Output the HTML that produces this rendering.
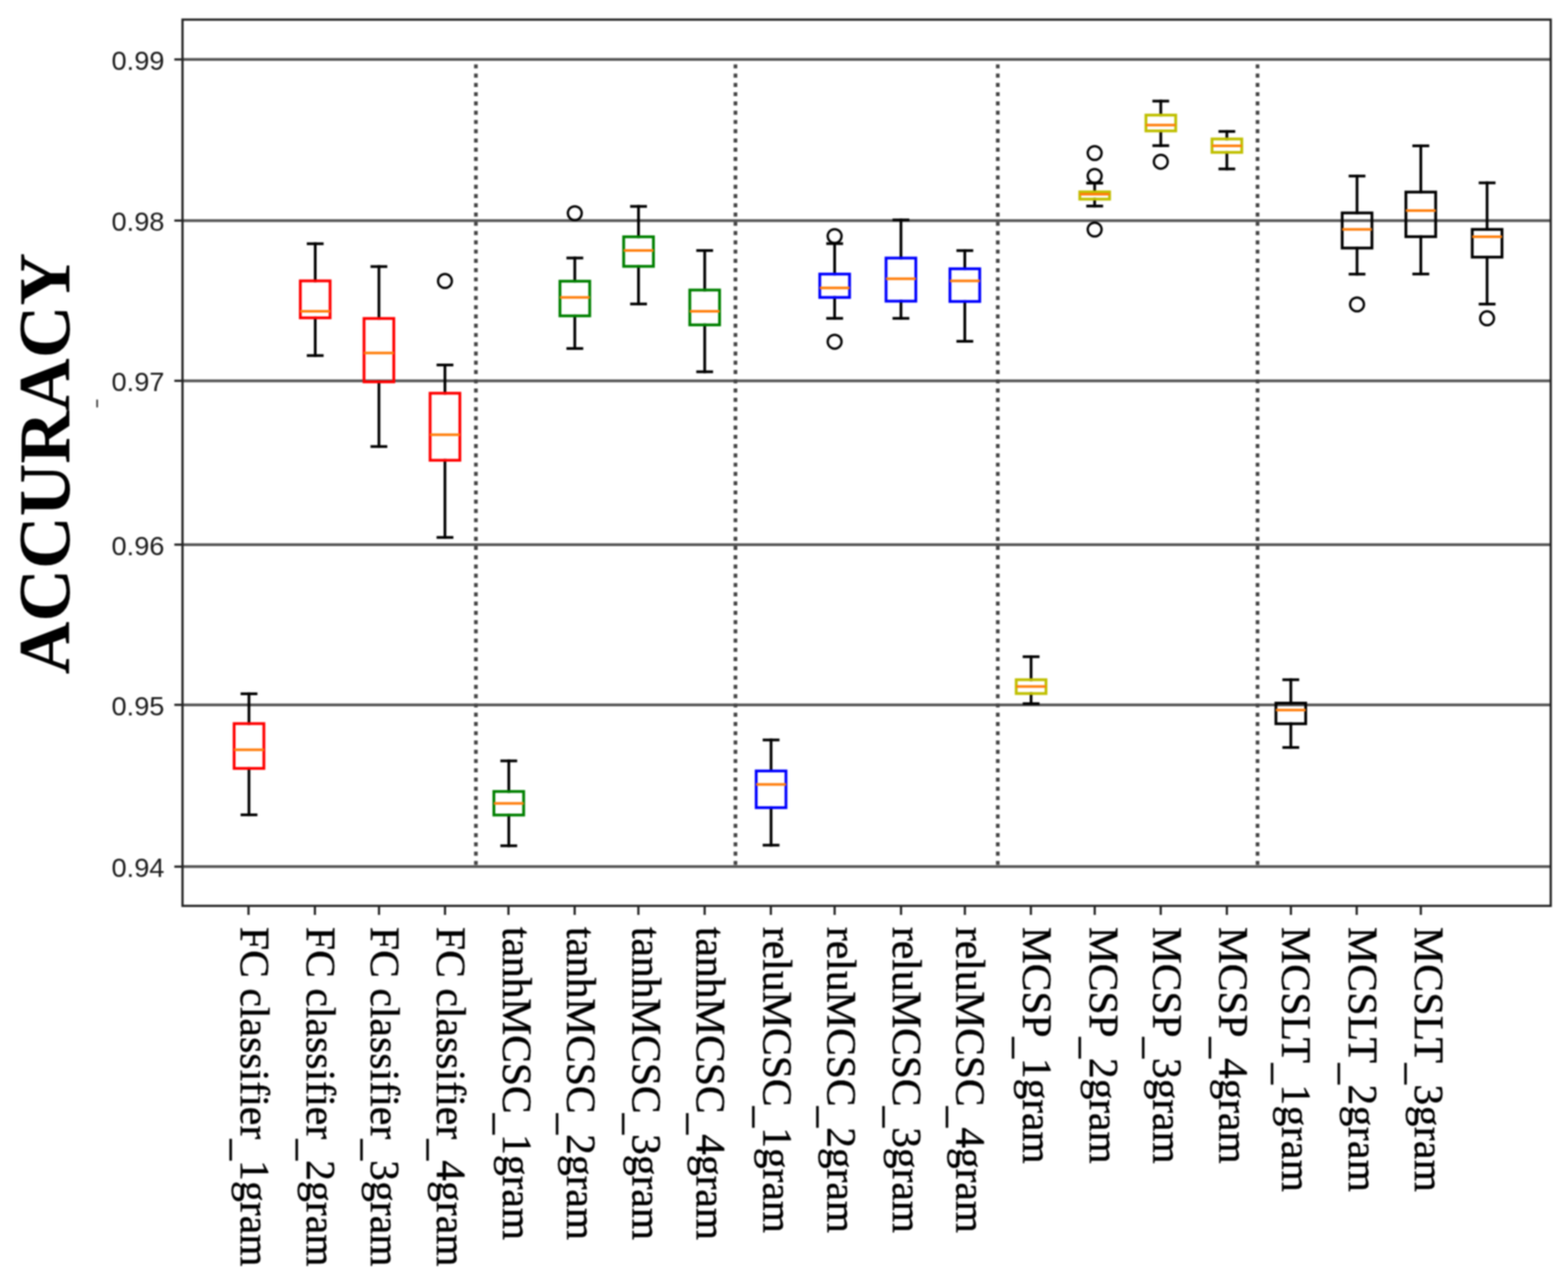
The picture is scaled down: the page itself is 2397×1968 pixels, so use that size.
<!DOCTYPE html>
<html><head><meta charset="utf-8"><title>ACCURACY boxplot</title>
<style>html,body{margin:0;padding:0;background:#fff;}svg{display:block;}#c{width:2397px;height:1968px;overflow:hidden;filter:blur(1px);}.tl{font-family:"Liberation Sans",Arial,sans-serif;font-size:41.5px;fill:#1a1a1a;}.xl{font-family:"Liberation Serif","Times New Roman",serif;font-size:63.3px;fill:#000;stroke:#000;stroke-width:0.7px;}.yl{font-family:"Liberation Serif","Times New Roman",serif;font-weight:bold;font-size:111.5px;fill:#000;}</style></head><body><div id="c">
<svg width="2397" height="1968" viewBox="0 0 2397 1968">
<rect width="2397" height="1968" fill="#fff"/>
<g stroke="#555" stroke-width="4.2" fill="none">
<line x1="279" y1="90.9" x2="2370.6" y2="90.9"/>
<line x1="279" y1="337.3" x2="2370.6" y2="337.3"/>
<line x1="279" y1="582.3" x2="2370.6" y2="582.3"/>
<line x1="279" y1="832.8" x2="2370.6" y2="832.8"/>
<line x1="279" y1="1077.8" x2="2370.6" y2="1077.8"/>
<line x1="279" y1="1325.2" x2="2370.6" y2="1325.2"/>
</g>
<g stroke="#444" stroke-width="5.6" stroke-dasharray="6.2 7.963" fill="none">
<line x1="727.5" y1="98.4" x2="727.5" y2="1325"/>
<line x1="1124.3" y1="98.4" x2="1124.3" y2="1325"/>
<line x1="1525.3" y1="98.4" x2="1525.3" y2="1325"/>
<line x1="1922.4" y1="98.4" x2="1922.4" y2="1325"/>
</g>
<g>
<g stroke="#000" stroke-width="4.2" stroke-linecap="square" fill="none">
<line x1="380.6" y1="1060.9" x2="380.6" y2="1106.5"/>
<line x1="380.6" y1="1175" x2="380.6" y2="1246"/>
<line x1="369.9" y1="1060.9" x2="391.4" y2="1060.9"/>
<line x1="369.9" y1="1246" x2="391.4" y2="1246"/>
</g>
<rect x="357.9" y="1106.5" width="45.5" height="68.5" fill="none" stroke="#ff0000" stroke-width="4.3"/>
<line x1="357.9" y1="1146.5" x2="403.4" y2="1146.5" stroke="#ff7f0e" stroke-width="4"/>
</g>
<g>
<g stroke="#000" stroke-width="4.2" stroke-linecap="square" fill="none">
<line x1="481.9" y1="372.7" x2="481.9" y2="429.5"/>
<line x1="481.9" y1="486" x2="481.9" y2="543.7"/>
<line x1="471.1" y1="372.7" x2="492.6" y2="372.7"/>
<line x1="471.1" y1="543.7" x2="492.6" y2="543.7"/>
</g>
<rect x="459.1" y="429.5" width="45.5" height="56.5" fill="none" stroke="#ff0000" stroke-width="4.3"/>
<line x1="459.1" y1="476" x2="504.6" y2="476" stroke="#ff7f0e" stroke-width="4"/>
</g>
<g>
<g stroke="#000" stroke-width="4.2" stroke-linecap="square" fill="none">
<line x1="579.3" y1="407.6" x2="579.3" y2="487"/>
<line x1="579.3" y1="583.9" x2="579.3" y2="682.8"/>
<line x1="568.5" y1="407.6" x2="590" y2="407.6"/>
<line x1="568.5" y1="682.8" x2="590" y2="682.8"/>
</g>
<rect x="556.5" y="487" width="45.5" height="96.9" fill="none" stroke="#ff0000" stroke-width="4.3"/>
<line x1="556.5" y1="539.8" x2="602" y2="539.8" stroke="#ff7f0e" stroke-width="4"/>
</g>
<g>
<g stroke="#000" stroke-width="4.2" stroke-linecap="square" fill="none">
<line x1="680.2" y1="558.1" x2="680.2" y2="601.3"/>
<line x1="680.2" y1="703.8" x2="680.2" y2="821.8"/>
<line x1="669.5" y1="558.1" x2="691" y2="558.1"/>
<line x1="669.5" y1="821.8" x2="691" y2="821.8"/>
</g>
<rect x="657.5" y="601.3" width="45.5" height="102.5" fill="none" stroke="#ff0000" stroke-width="4.3"/>
<line x1="657.5" y1="664.7" x2="703" y2="664.7" stroke="#ff7f0e" stroke-width="4"/>
<circle cx="680.2" cy="429.7" r="10.6" fill="none" stroke="#000" stroke-width="3.5"/>
</g>
<g>
<g stroke="#000" stroke-width="4.2" stroke-linecap="square" fill="none">
<line x1="777.8" y1="1163.5" x2="777.8" y2="1210.3"/>
<line x1="777.8" y1="1246.3" x2="777.8" y2="1293.3"/>
<line x1="767" y1="1163.5" x2="788.5" y2="1163.5"/>
<line x1="767" y1="1293.3" x2="788.5" y2="1293.3"/>
</g>
<rect x="755" y="1210.3" width="45.5" height="36" fill="none" stroke="#008000" stroke-width="4.3"/>
<line x1="755" y1="1228.4" x2="800.5" y2="1228.4" stroke="#ff7f0e" stroke-width="4"/>
</g>
<g>
<g stroke="#000" stroke-width="4.2" stroke-linecap="square" fill="none">
<line x1="878.7" y1="394.5" x2="878.7" y2="430"/>
<line x1="878.7" y1="483" x2="878.7" y2="532.9"/>
<line x1="868" y1="394.5" x2="889.5" y2="394.5"/>
<line x1="868" y1="532.9" x2="889.5" y2="532.9"/>
</g>
<rect x="856" y="430" width="45.5" height="53" fill="none" stroke="#008000" stroke-width="4.3"/>
<line x1="856" y1="454.7" x2="901.5" y2="454.7" stroke="#ff7f0e" stroke-width="4"/>
<circle cx="878.7" cy="326" r="10.6" fill="none" stroke="#000" stroke-width="3.5"/>
</g>
<g>
<g stroke="#000" stroke-width="4.2" stroke-linecap="square" fill="none">
<line x1="976.1" y1="315.6" x2="976.1" y2="362.1"/>
<line x1="976.1" y1="407.3" x2="976.1" y2="464.8"/>
<line x1="965.4" y1="315.6" x2="986.9" y2="315.6"/>
<line x1="965.4" y1="464.8" x2="986.9" y2="464.8"/>
</g>
<rect x="953.4" y="362.1" width="45.5" height="45.2" fill="none" stroke="#008000" stroke-width="4.3"/>
<line x1="953.4" y1="383.1" x2="998.9" y2="383.1" stroke="#ff7f0e" stroke-width="4"/>
</g>
<g>
<g stroke="#000" stroke-width="4.2" stroke-linecap="square" fill="none">
<line x1="1077.3" y1="383.1" x2="1077.3" y2="443.5"/>
<line x1="1077.3" y1="496.8" x2="1077.3" y2="568.5"/>
<line x1="1066.5" y1="383.1" x2="1088" y2="383.1"/>
<line x1="1066.5" y1="568.5" x2="1088" y2="568.5"/>
</g>
<rect x="1054.5" y="443.5" width="45.5" height="53.3" fill="none" stroke="#008000" stroke-width="4.3"/>
<line x1="1054.5" y1="476.1" x2="1100" y2="476.1" stroke="#ff7f0e" stroke-width="4"/>
</g>
<g>
<g stroke="#000" stroke-width="4.2" stroke-linecap="square" fill="none">
<line x1="1178.7" y1="1131.5" x2="1178.7" y2="1178.9"/>
<line x1="1178.7" y1="1235" x2="1178.7" y2="1292.4"/>
<line x1="1168" y1="1131.5" x2="1189.5" y2="1131.5"/>
<line x1="1168" y1="1292.4" x2="1189.5" y2="1292.4"/>
</g>
<rect x="1156" y="1178.9" width="45.5" height="56.1" fill="none" stroke="#0000ff" stroke-width="4.3"/>
<line x1="1156" y1="1199.6" x2="1201.5" y2="1199.6" stroke="#ff7f0e" stroke-width="4"/>
</g>
<g>
<g stroke="#000" stroke-width="4.2" stroke-linecap="square" fill="none">
<line x1="1275.9" y1="372.5" x2="1275.9" y2="419.1"/>
<line x1="1275.9" y1="454.8" x2="1275.9" y2="486.8"/>
<line x1="1265.2" y1="372.5" x2="1286.7" y2="372.5"/>
<line x1="1265.2" y1="486.8" x2="1286.7" y2="486.8"/>
</g>
<rect x="1253.2" y="419.1" width="45.5" height="35.7" fill="none" stroke="#0000ff" stroke-width="4.3"/>
<line x1="1253.2" y1="440.3" x2="1298.7" y2="440.3" stroke="#ff7f0e" stroke-width="4"/>
<circle cx="1275.9" cy="361" r="10.6" fill="none" stroke="#000" stroke-width="3.5"/>
<circle cx="1275.9" cy="522.6" r="10.6" fill="none" stroke="#000" stroke-width="3.5"/>
</g>
<g>
<g stroke="#000" stroke-width="4.2" stroke-linecap="square" fill="none">
<line x1="1377.3" y1="336.3" x2="1377.3" y2="394.6"/>
<line x1="1377.3" y1="460.5" x2="1377.3" y2="486.8"/>
<line x1="1366.5" y1="336.3" x2="1388" y2="336.3"/>
<line x1="1366.5" y1="486.8" x2="1388" y2="486.8"/>
</g>
<rect x="1354.5" y="394.6" width="45.5" height="65.9" fill="none" stroke="#0000ff" stroke-width="4.3"/>
<line x1="1354.5" y1="426.3" x2="1400" y2="426.3" stroke="#ff7f0e" stroke-width="4"/>
</g>
<g>
<g stroke="#000" stroke-width="4.2" stroke-linecap="square" fill="none">
<line x1="1474.9" y1="383.2" x2="1474.9" y2="411"/>
<line x1="1474.9" y1="461" x2="1474.9" y2="521.9"/>
<line x1="1464.2" y1="383.2" x2="1485.7" y2="383.2"/>
<line x1="1464.2" y1="521.9" x2="1485.7" y2="521.9"/>
</g>
<rect x="1452.2" y="411" width="45.5" height="50" fill="none" stroke="#0000ff" stroke-width="4.3"/>
<line x1="1452.2" y1="429.5" x2="1497.7" y2="429.5" stroke="#ff7f0e" stroke-width="4"/>
</g>
<g>
<g stroke="#000" stroke-width="4.2" stroke-linecap="square" fill="none">
<line x1="1576.2" y1="1004.2" x2="1576.2" y2="1039.4"/>
<line x1="1576.2" y1="1060.5" x2="1576.2" y2="1076"/>
<line x1="1565.5" y1="1004.2" x2="1587" y2="1004.2"/>
<line x1="1565.5" y1="1076" x2="1587" y2="1076"/>
</g>
<rect x="1553.5" y="1039.4" width="45.5" height="21.1" fill="none" stroke="#bfbf00" stroke-width="4.3"/>
<line x1="1553.5" y1="1049.8" x2="1599" y2="1049.8" stroke="#ff7f0e" stroke-width="4"/>
</g>
<g>
<g stroke="#000" stroke-width="4.2" stroke-linecap="square" fill="none">
<line x1="1673.4" y1="280" x2="1673.4" y2="293.4"/>
<line x1="1673.4" y1="304.5" x2="1673.4" y2="315.1"/>
<line x1="1662.7" y1="280" x2="1684.2" y2="280"/>
<line x1="1662.7" y1="315.1" x2="1684.2" y2="315.1"/>
</g>
<rect x="1650.7" y="293.4" width="45.5" height="11.1" fill="none" stroke="#bfbf00" stroke-width="4.3"/>
<line x1="1650.7" y1="297.1" x2="1696.2" y2="297.1" stroke="#ff7f0e" stroke-width="4"/>
<circle cx="1673.4" cy="234" r="10.6" fill="none" stroke="#000" stroke-width="3.5"/>
<circle cx="1673.4" cy="269" r="10.6" fill="none" stroke="#000" stroke-width="3.5"/>
<circle cx="1673.4" cy="351" r="10.6" fill="none" stroke="#000" stroke-width="3.5"/>
</g>
<g>
<g stroke="#000" stroke-width="4.2" stroke-linecap="square" fill="none">
<line x1="1774.5" y1="154.6" x2="1774.5" y2="176"/>
<line x1="1774.5" y1="200.2" x2="1774.5" y2="222.7"/>
<line x1="1763.8" y1="154.6" x2="1785.2" y2="154.6"/>
<line x1="1763.8" y1="222.7" x2="1785.2" y2="222.7"/>
</g>
<rect x="1751.8" y="176" width="45.5" height="24.2" fill="none" stroke="#bfbf00" stroke-width="4.3"/>
<line x1="1751.8" y1="191.3" x2="1797.2" y2="191.3" stroke="#ff7f0e" stroke-width="4"/>
<circle cx="1774.5" cy="247.3" r="10.6" fill="none" stroke="#000" stroke-width="3.5"/>
</g>
<g>
<g stroke="#000" stroke-width="4.2" stroke-linecap="square" fill="none">
<line x1="1875.5" y1="201" x2="1875.5" y2="212.5"/>
<line x1="1875.5" y1="233" x2="1875.5" y2="258.3"/>
<line x1="1864.8" y1="201" x2="1886.2" y2="201"/>
<line x1="1864.8" y1="258.3" x2="1886.2" y2="258.3"/>
</g>
<rect x="1852.8" y="212.5" width="45.5" height="20.5" fill="none" stroke="#bfbf00" stroke-width="4.3"/>
<line x1="1852.8" y1="222.9" x2="1898.2" y2="222.9" stroke="#ff7f0e" stroke-width="4"/>
</g>
<g>
<g stroke="#000" stroke-width="4.2" stroke-linecap="square" fill="none">
<line x1="1973.3" y1="1039.4" x2="1973.3" y2="1075.2"/>
<line x1="1973.3" y1="1106.7" x2="1973.3" y2="1143"/>
<line x1="1962.5" y1="1039.4" x2="1984" y2="1039.4"/>
<line x1="1962.5" y1="1143" x2="1984" y2="1143"/>
</g>
<rect x="1950.5" y="1075.2" width="45.5" height="31.5" fill="none" stroke="#000000" stroke-width="4.3"/>
<line x1="1950.5" y1="1085.7" x2="1996" y2="1085.7" stroke="#ff7f0e" stroke-width="4"/>
</g>
<g>
<g stroke="#000" stroke-width="4.2" stroke-linecap="square" fill="none">
<line x1="2074.5" y1="269.2" x2="2074.5" y2="325.6"/>
<line x1="2074.5" y1="379.3" x2="2074.5" y2="419.2"/>
<line x1="2063.8" y1="269.2" x2="2085.2" y2="269.2"/>
<line x1="2063.8" y1="419.2" x2="2085.2" y2="419.2"/>
</g>
<rect x="2051.8" y="325.6" width="45.5" height="53.7" fill="none" stroke="#000000" stroke-width="4.3"/>
<line x1="2051.8" y1="350.8" x2="2097.2" y2="350.8" stroke="#ff7f0e" stroke-width="4"/>
<circle cx="2074.5" cy="465.5" r="10.6" fill="none" stroke="#000" stroke-width="3.5"/>
</g>
<g>
<g stroke="#000" stroke-width="4.2" stroke-linecap="square" fill="none">
<line x1="2172" y1="223" x2="2172" y2="293.7"/>
<line x1="2172" y1="361.9" x2="2172" y2="419"/>
<line x1="2161.2" y1="223" x2="2182.8" y2="223"/>
<line x1="2161.2" y1="419" x2="2182.8" y2="419"/>
</g>
<rect x="2149.2" y="293.7" width="45.5" height="68.2" fill="none" stroke="#000000" stroke-width="4.3"/>
<line x1="2149.2" y1="322" x2="2194.8" y2="322" stroke="#ff7f0e" stroke-width="4"/>
</g>
<g>
<g stroke="#000" stroke-width="4.2" stroke-linecap="square" fill="none">
<line x1="2273.3" y1="279.6" x2="2273.3" y2="350.8"/>
<line x1="2273.3" y1="393.2" x2="2273.3" y2="465"/>
<line x1="2262.6" y1="279.6" x2="2284.1" y2="279.6"/>
<line x1="2262.6" y1="465" x2="2284.1" y2="465"/>
</g>
<rect x="2250.6" y="350.8" width="45.5" height="42.4" fill="none" stroke="#000000" stroke-width="4.3"/>
<line x1="2250.6" y1="361.9" x2="2296.1" y2="361.9" stroke="#ff7f0e" stroke-width="4"/>
<circle cx="2273.3" cy="486.7" r="10.6" fill="none" stroke="#000" stroke-width="3.5"/>
</g>
<rect x="279" y="30" width="2091.6" height="1355.2" fill="none" stroke="#222" stroke-width="3.4"/>
<g stroke="#222" stroke-width="3.4">
<line x1="266.5" y1="90.9" x2="279" y2="90.9"/>
<line x1="266.5" y1="337.3" x2="279" y2="337.3"/>
<line x1="266.5" y1="582.3" x2="279" y2="582.3"/>
<line x1="266.5" y1="832.8" x2="279" y2="832.8"/>
<line x1="266.5" y1="1077.8" x2="279" y2="1077.8"/>
<line x1="266.5" y1="1325.2" x2="279" y2="1325.2"/>
<line x1="379.9" y1="1385.2" x2="379.9" y2="1399"/>
<line x1="481.4" y1="1385.2" x2="481.4" y2="1399"/>
<line x1="579.4" y1="1385.2" x2="579.4" y2="1399"/>
<line x1="680.3" y1="1385.2" x2="680.3" y2="1399"/>
<line x1="777.3" y1="1385.2" x2="777.3" y2="1399"/>
<line x1="878.5" y1="1385.2" x2="878.5" y2="1399"/>
<line x1="975.9" y1="1385.2" x2="975.9" y2="1399"/>
<line x1="1077.2" y1="1385.2" x2="1077.2" y2="1399"/>
<line x1="1178.4" y1="1385.2" x2="1178.4" y2="1399"/>
<line x1="1275.9" y1="1385.2" x2="1275.9" y2="1399"/>
<line x1="1377.4" y1="1385.2" x2="1377.4" y2="1399"/>
<line x1="1475" y1="1385.2" x2="1475" y2="1399"/>
<line x1="1575.9" y1="1385.2" x2="1575.9" y2="1399"/>
<line x1="1673.5" y1="1385.2" x2="1673.5" y2="1399"/>
<line x1="1774.4" y1="1385.2" x2="1774.4" y2="1399"/>
<line x1="1875.5" y1="1385.2" x2="1875.5" y2="1399"/>
<line x1="1973.4" y1="1385.2" x2="1973.4" y2="1399"/>
<line x1="2074" y1="1385.2" x2="2074" y2="1399"/>
<line x1="2172" y1="1385.2" x2="2172" y2="1399"/>
</g>
<text class="tl" x="251.3" y="106.7" text-anchor="end">0.99</text>
<text class="tl" x="251.3" y="353.1" text-anchor="end">0.98</text>
<text class="tl" x="251.3" y="598.1" text-anchor="end">0.97</text>
<text class="tl" x="251.3" y="848.6" text-anchor="end">0.96</text>
<text class="tl" x="251.3" y="1093.6" text-anchor="end">0.95</text>
<text class="tl" x="251.3" y="1341" text-anchor="end">0.94</text>
<text class="xl" transform="translate(367.9 1417.6) rotate(90)" textLength="519.1" lengthAdjust="spacing">FC classifier<tspan dy="8.5">_</tspan><tspan dy="-8.5">1gram</tspan></text>
<text class="xl" transform="translate(468.8 1417.6) rotate(90)" textLength="519.1" lengthAdjust="spacing">FC classifier<tspan dy="8.5">_</tspan><tspan dy="-8.5">2gram</tspan></text>
<text class="xl" transform="translate(567 1417.6) rotate(90)" textLength="519.1" lengthAdjust="spacing">FC classifier<tspan dy="8.5">_</tspan><tspan dy="-8.5">3gram</tspan></text>
<text class="xl" transform="translate(668.1 1417.6) rotate(90)" textLength="519.1" lengthAdjust="spacing">FC classifier<tspan dy="8.5">_</tspan><tspan dy="-8.5">4gram</tspan></text>
<text class="xl" transform="translate(769.1 1417.6) rotate(90)" textLength="478.6" lengthAdjust="spacing">tanhMCSC<tspan dy="8.5">_</tspan><tspan dy="-8.5">1gram</tspan></text>
<text class="xl" transform="translate(866.5 1417.6) rotate(90)" textLength="478.6" lengthAdjust="spacing">tanhMCSC<tspan dy="8.5">_</tspan><tspan dy="-8.5">2gram</tspan></text>
<text class="xl" transform="translate(967 1417.6) rotate(90)" textLength="478.6" lengthAdjust="spacing">tanhMCSC<tspan dy="8.5">_</tspan><tspan dy="-8.5">3gram</tspan></text>
<text class="xl" transform="translate(1065 1417.6) rotate(90)" textLength="478.6" lengthAdjust="spacing">tanhMCSC<tspan dy="8.5">_</tspan><tspan dy="-8.5">4gram</tspan></text>
<text class="xl" transform="translate(1166.7 1417.6) rotate(90)" textLength="467.9" lengthAdjust="spacing">reluMCSC<tspan dy="8.5">_</tspan><tspan dy="-8.5">1gram</tspan></text>
<text class="xl" transform="translate(1264.8 1417.6) rotate(90)" textLength="467.9" lengthAdjust="spacing">reluMCSC<tspan dy="8.5">_</tspan><tspan dy="-8.5">2gram</tspan></text>
<text class="xl" transform="translate(1365.3 1417.6) rotate(90)" textLength="467.9" lengthAdjust="spacing">reluMCSC<tspan dy="8.5">_</tspan><tspan dy="-8.5">3gram</tspan></text>
<text class="xl" transform="translate(1462.2 1417.6) rotate(90)" textLength="467.9" lengthAdjust="spacing">reluMCSC<tspan dy="8.5">_</tspan><tspan dy="-8.5">4gram</tspan></text>
<text class="xl" transform="translate(1563.9 1417.6) rotate(90)" textLength="361.8" lengthAdjust="spacing">MCSP<tspan dy="8.5">_</tspan><tspan dy="-8.5">1gram</tspan></text>
<text class="xl" transform="translate(1665.5 1417.6) rotate(90)" textLength="361.8" lengthAdjust="spacing">MCSP<tspan dy="8.5">_</tspan><tspan dy="-8.5">2gram</tspan></text>
<text class="xl" transform="translate(1762.5 1417.6) rotate(90)" textLength="361.8" lengthAdjust="spacing">MCSP<tspan dy="8.5">_</tspan><tspan dy="-8.5">3gram</tspan></text>
<text class="xl" transform="translate(1864.1 1417.6) rotate(90)" textLength="361.8" lengthAdjust="spacing">MCSP<tspan dy="8.5">_</tspan><tspan dy="-8.5">4gram</tspan></text>
<text class="xl" transform="translate(1959.9 1417.6) rotate(90)" textLength="405.1" lengthAdjust="spacing">MCSLT<tspan dy="8.5">_</tspan><tspan dy="-8.5">1gram</tspan></text>
<text class="xl" transform="translate(2061.5 1417.6) rotate(90)" textLength="405.1" lengthAdjust="spacing">MCSLT<tspan dy="8.5">_</tspan><tspan dy="-8.5">2gram</tspan></text>
<text class="xl" transform="translate(2163.2 1417.6) rotate(90)" textLength="405.1" lengthAdjust="spacing">MCSLT<tspan dy="8.5">_</tspan><tspan dy="-8.5">3gram</tspan></text>
<text class="yl" transform="translate(106 1031) rotate(-90)">ACCURACY</text>
<line x1="148.5" y1="612" x2="148.5" y2="622" stroke="#333" stroke-width="2.5" stroke-linecap="round"/>
</svg></div></body></html>
